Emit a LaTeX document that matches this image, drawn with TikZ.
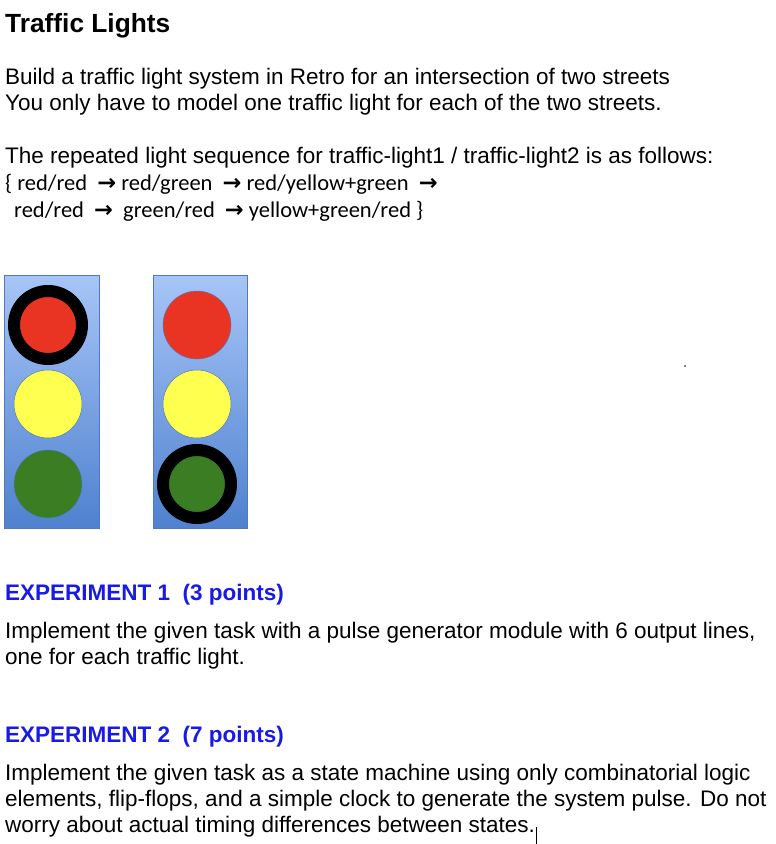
\documentclass[tikz,border=0pt]{standalone}
\usepackage{fontspec}
\setmainfont{Liberation Sans}
\newfontfamily\calib{Carlito}
\newfontfamily\djv{DejaVu Sans}
\definecolor{boxtop}{HTML}{A7C5F7}
\definecolor{boxbot}{HTML}{4F81CF}
\definecolor{boxline}{HTML}{4F7BBE}
\definecolor{lred}{HTML}{E93424}
\definecolor{lyel}{HTML}{FFFF4F}
\definecolor{lgrn}{HTML}{3A7D22}
\definecolor{expblue}{HTML}{1A1AE6}
\newcommand{\ar}{{\djv\bfseries →}}
\begin{document}
\begin{tikzpicture}[x=1pt,y=-1pt,
  txt/.style={anchor=base west,inner sep=0pt,font=\fontsize{22.5}{25}\selectfont},
  ttl/.style={anchor=base west,inner sep=0pt,font=\fontsize{26.3}{29}\selectfont\bfseries},
  seq/.style={anchor=base west,inner sep=0pt,font=\fontsize{22.5}{25}\selectfont\calib},
  exp/.style={anchor=base west,inner sep=0pt,font=\fontsize{22.5}{25}\selectfont\bfseries,text=expblue},
  housing/.style={draw=boxline,line width=0.8pt,top color=boxtop,bottom color=boxbot},
  lamp/.style={circle,draw=boxline,line width=0.5pt,minimum size=68pt,inner sep=0pt},
  lit/.style={circle,draw=black,line width=12pt,minimum size=68pt,inner sep=0pt}]
\fill[white] (0,0) rectangle (776,844);
\useasboundingbox (0,0) rectangle (776,844);
\node[ttl] (title) at (5,32) {Traffic Lights};
\node[txt] (l1) at (5,84) {Build a traffic light system in Retro for an intersection of two streets};
\node[txt] (l2) at (5,110) {You only have to model one traffic light for each of the two streets.};
\node[txt] (l3) at (5,163) {The repeated light sequence for traffic-light1 / traffic-light2 is as follows:};
\node[seq] (s1) at (5,190) {\{ red/red \ \ar\ red/green \ \ar\ red/yellow+green \ \ar};
\node[seq] (s2) at (14,217) {red/red \ \ar\ \ green/red \ \ar\ yellow+green/red \}};
\node[housing,draw,minimum width=95pt,minimum height=253pt,inner sep=0pt] (b1) at (51.5,401.5) {};
\node[housing,draw,minimum width=94pt,minimum height=253pt,inner sep=0pt] (b2) at (200,401.5) {};
\node[lit,fill=lred] (r1) at (48,325) {};
\node[lamp,fill=lyel] (y1) at (48,404) {};
\node[lamp,fill=lgrn] (g1) at (48,484) {};
\node[lamp,fill=lred] (r2) at (197,325) {};
\node[lamp,fill=lyel] (y2) at (197,404) {};
\node[lit,fill=lgrn] (g2) at (197,484) {};
\fill (685,366) circle (0.8pt);
\node[exp] (e1) at (5,600) {EXPERIMENT 1 \ (3 points)};
\node[txt] (e1a) at (5,638) {Implement the given task with a pulse generator module with 6 output lines,};
\node[txt] (e1b) at (5,664) {one for each traffic light.};
\node[exp] (e2) at (5,742) {EXPERIMENT 2 \ (7 points)};
\node[txt] (e2a) at (5,780) {Implement the given task as a state machine using only combinatorial logic};
\node[txt] (e2b) at (5,806) {elements, flip-flops, and a simple clock to generate the system pulse. Do not};
\node[txt] (e2c) at (5,832) {worry about actual timing differences between states.};
\coordinate (cur) at ([xshift=1pt]e2c.base east);
\draw[line width=1pt] ([yshift=5pt]cur) -- ([yshift=-20pt]cur);
\end{tikzpicture}
\end{document}
